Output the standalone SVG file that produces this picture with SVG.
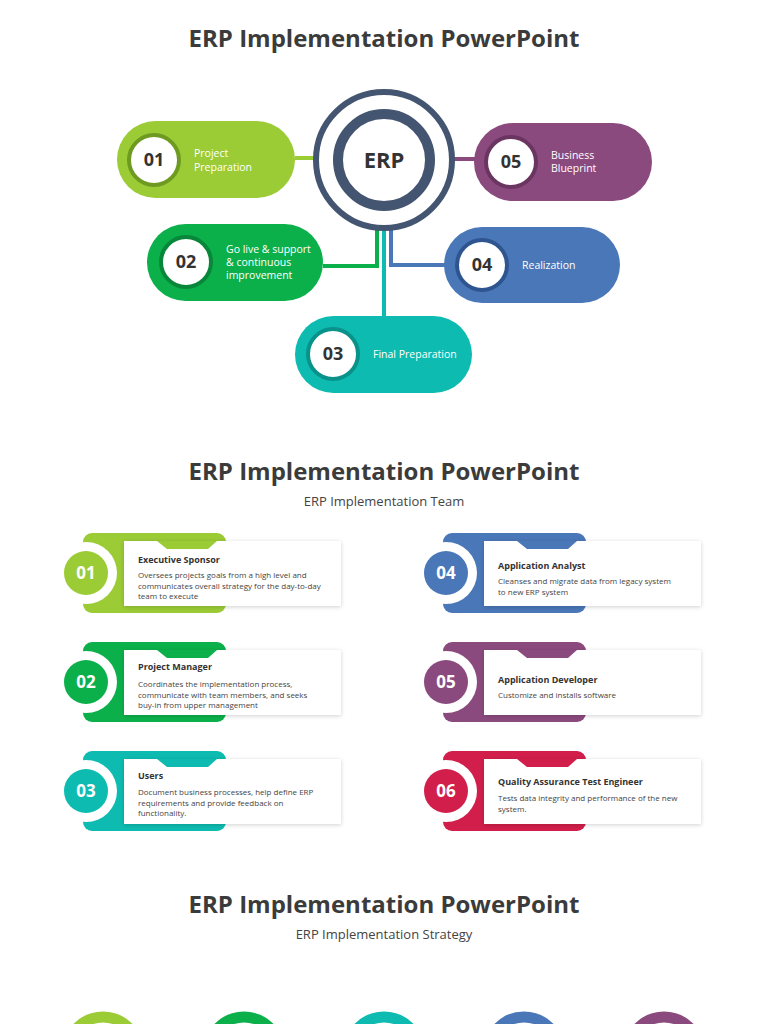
<svg xmlns="http://www.w3.org/2000/svg" width="768" height="1024" viewBox="0 0 768 1024">
<defs>
<filter id="sh" x="-10%" y="-20%" width="120%" height="140%"><feDropShadow dx="0" dy="1" stdDeviation="2" flood-color="#000" flood-opacity="0.18"/></filter>
<style>
text{font-family:"Open Sans","Noto Sans","Liberation Sans",sans-serif}
.h{font-size:24px;font-weight:bold;fill:#3b3b3b;text-anchor:middle}
.sub{font-size:13px;fill:#444;text-anchor:middle}
.num{font-size:18px;font-weight:bold;fill:#333;text-anchor:middle}
.pl{font-size:10.5px;fill:#fff}
.cn{font-size:17px;font-weight:bold;fill:#fff;text-anchor:middle}
.ct{font-size:9px;font-weight:bold;fill:#333}
.cd{font-size:8px;fill:#444}
.card{fill:#fff;filter:url(#sh)}
</style>
</defs>
<rect width="768" height="1024" fill="#fff"/>
<text class="h" x="384" y="47">ERP Implementation PowerPoint</text>
<g id="connectors" fill="none" stroke-width="4">
<path d="M295 158H315" stroke="#9bcb35"/>
<path d="M453 159H476" stroke="#8b4a7e"/>
<path d="M377 230V266H323" stroke="#0bb04a"/>
<path d="M391 230V265H446" stroke="#4a77b8"/>
<path d="M384 230V318" stroke="#0dbbb0"/>
</g>
<g id="erp">
<circle cx="384" cy="160" r="68" fill="#fff" stroke="#435570" stroke-width="6"/>
<circle cx="384" cy="160" r="46" fill="#fff" stroke="#435570" stroke-width="10"/>
<text x="384" y="168" font-size="22" font-weight="bold" fill="#333" text-anchor="middle">ERP</text>
</g>
<g id="n01"><rect x="117" y="121" width="178" height="77" rx="38.5" fill="#9bcb35"/><circle cx="154" cy="160" r="25" fill="#fff" stroke="#6f9a22" stroke-width="4"/><text class="num" x="154" y="166">01</text><text class="pl" x="194" y="157">Project</text><text class="pl" x="194" y="171">Preparation</text></g>
<g id="n05"><rect x="474" y="123" width="178" height="78" rx="39" fill="#8b4a7e"/><circle cx="511" cy="162" r="25" fill="#fff" stroke="#6a3560" stroke-width="4"/><text class="num" x="511" y="168">05</text><text class="pl" x="551" y="159">Business</text><text class="pl" x="551" y="172">Blueprint</text></g>
<g id="n02"><rect x="147" y="224" width="176" height="77" rx="38.5" fill="#0bb04a"/><circle cx="186" cy="262" r="25" fill="#fff" stroke="#08873a" stroke-width="4"/><text class="num" x="186" y="268">02</text><text class="pl" x="226" y="253">Go live &amp; support</text><text class="pl" x="226" y="266">&amp; continuous</text><text class="pl" x="226" y="279">improvement</text></g>
<g id="n04"><rect x="444" y="227" width="176" height="76" rx="38" fill="#4a77b8"/><circle cx="482" cy="265" r="25" fill="#fff" stroke="#2f5590" stroke-width="4"/><text class="num" x="482" y="271">04</text><text class="pl" x="522" y="269">Realization</text></g>
<g id="n03"><rect x="295" y="316" width="177" height="77" rx="38.5" fill="#0dbbb0"/><circle cx="333" cy="354" r="25" fill="#fff" stroke="#09928a" stroke-width="4"/><text class="num" x="333" y="360">03</text><text class="pl" x="373" y="358">Final Preparation</text></g>

<text class="h" x="384" y="480">ERP Implementation PowerPoint</text>
<text class="sub" x="384" y="506">ERP Implementation Team</text>

<g id="c01"><rect x="83" y="533" width="143" height="80" rx="9" fill="#9bcb35"/><circle cx="86" cy="573" r="31" fill="#fff"/><circle cx="86" cy="573" r="22" fill="#9bcb35"/><rect class="card" x="124" y="541" width="217" height="65"/><path d="M157 541H217L208 549H167Z" fill="#9bcb35"/><text class="cn" x="86" y="579">01</text><text class="ct" x="138" y="563">Executive Sponsor</text><text class="cd" x="138" y="578">Oversees projects goals from a high level and</text><text class="cd" x="138" y="588.5">communicates overall strategy for the day-to-day</text><text class="cd" x="138" y="599">team to execute</text></g>
<g id="c02"><rect x="83" y="642" width="143" height="80" rx="9" fill="#0bb04a"/><circle cx="86" cy="682" r="31" fill="#fff"/><circle cx="86" cy="682" r="22" fill="#0bb04a"/><rect class="card" x="124" y="650" width="217" height="65"/><path d="M157 650H217L208 658H167Z" fill="#0bb04a"/><text class="cn" x="86" y="688">02</text><text class="ct" x="138" y="670">Project Manager</text><text class="cd" x="138" y="687">Coordinates the implementation process,</text><text class="cd" x="138" y="697.5">communicate with team members, and seeks</text><text class="cd" x="138" y="708">buy-in from upper management</text></g>
<g id="c03"><rect x="83" y="751" width="143" height="80" rx="9" fill="#0dbbb0"/><circle cx="86" cy="791" r="31" fill="#fff"/><circle cx="86" cy="791" r="22" fill="#0dbbb0"/><rect class="card" x="124" y="759" width="217" height="65"/><path d="M157 759H217L208 767H167Z" fill="#0dbbb0"/><text class="cn" x="86" y="797">03</text><text class="ct" x="138" y="779">Users</text><text class="cd" x="138" y="795">Document business processes, help define ERP</text><text class="cd" x="138" y="805.5">requirements and provide feedback on</text><text class="cd" x="138" y="816">functionality.</text></g>
<g id="c04"><rect x="443" y="533" width="143" height="80" rx="9" fill="#4a77b8"/><circle cx="446" cy="573" r="31" fill="#fff"/><circle cx="446" cy="573" r="22" fill="#4a77b8"/><rect class="card" x="484" y="541" width="217" height="65"/><path d="M517 541H577L568 549H527Z" fill="#4a77b8"/><text class="cn" x="446" y="579">04</text><text class="ct" x="498" y="569">Application Analyst</text><text class="cd" x="498" y="584">Cleanses and migrate data from legacy system</text><text class="cd" x="498" y="594.5">to new ERP system</text></g>
<g id="c05"><rect x="443" y="642" width="143" height="80" rx="9" fill="#8b4a7e"/><circle cx="446" cy="682" r="31" fill="#fff"/><circle cx="446" cy="682" r="22" fill="#8b4a7e"/><rect class="card" x="484" y="650" width="217" height="65"/><path d="M517 650H577L568 658H527Z" fill="#8b4a7e"/><text class="cn" x="446" y="688">05</text><text class="ct" x="498" y="683">Application Developer</text><text class="cd" x="498" y="698">Customize and installs software</text></g>
<g id="c06"><rect x="443" y="751" width="143" height="80" rx="9" fill="#d21e4b"/><circle cx="446" cy="791" r="31" fill="#fff"/><circle cx="446" cy="791" r="22" fill="#d21e4b"/><rect class="card" x="484" y="759" width="217" height="65"/><path d="M517 759H577L568 767H527Z" fill="#d21e4b"/><text class="cn" x="446" y="797">06</text><text class="ct" x="498" y="785">Quality Assurance Test Engineer</text><text class="cd" x="498" y="801">Tests data integrity and performance of the new</text><text class="cd" x="498" y="811.5">system.</text></g>

<text class="h" x="384" y="913">ERP Implementation PowerPoint</text>
<text class="sub" x="384" y="939">ERP Implementation Strategy</text>
<g id="s1"><circle cx="103" cy="1053" r="36" fill="#fff" stroke="#9bcb35" stroke-width="11"/></g>
<g id="s2"><circle cx="244" cy="1053" r="36" fill="#fff" stroke="#0bb04a" stroke-width="11"/></g>
<g id="s3"><circle cx="384" cy="1053" r="36" fill="#fff" stroke="#0dbbb0" stroke-width="11"/></g>
<g id="s4"><circle cx="524" cy="1053" r="36" fill="#fff" stroke="#4a77b8" stroke-width="11"/></g>
<g id="s5"><circle cx="664" cy="1053" r="36" fill="#fff" stroke="#8b4a7e" stroke-width="11"/></g>
</svg>
